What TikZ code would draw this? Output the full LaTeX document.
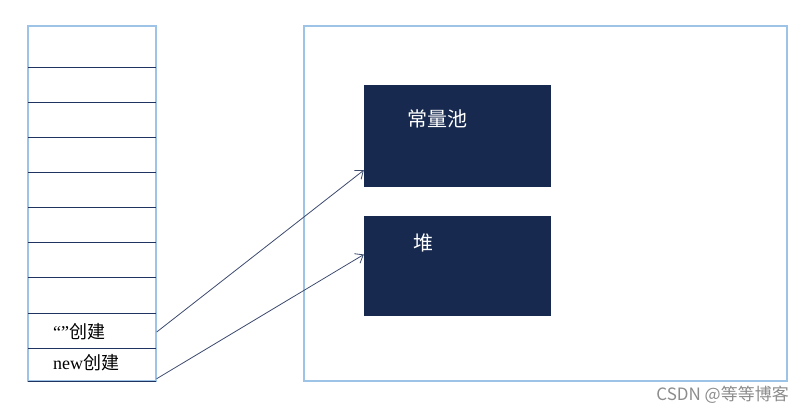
\documentclass[tikz,border=0pt]{standalone}
\usepackage{fontspec}
\setmainfont{Liberation Serif}
\newfontfamily\cjk{Noto Sans CJK SC}
\usetikzlibrary{arrows.meta}

\definecolor{frameblue}{HTML}{9DC3E6}
\definecolor{rowdark}{HTML}{1F3460}
\definecolor{boxnavy}{HTML}{17294F}
\definecolor{ptrgray}{HTML}{3C4A6E}

\tikzset{
	stack/.style={draw=frameblue, line width=1.4pt, inner sep=0pt},
	rowline/.style={draw=rowdark, line width=0.9pt},
	area/.style={draw=boxnavy, fill=boxnavy, inner sep=0pt},
	celltext/.style={anchor=west, inner sep=0pt, font=\fontsize{18}{21}\selectfont},
	areatext/.style={text=white, inner sep=0pt, font=\cjk\fontsize{20}{24}\selectfont},
	ptr/.style={draw=ptrgray, line width=0.8pt, -{Straight Barb[length=7pt, width=11pt]}}
}

\begin{document}
\begin{tikzpicture}[x=1pt, y=-1pt]
	
	\useasboundingbox (0,0) rectangle (805,412);
	
	% stack column on the left
	\node[stack, minimum width=128pt, minimum height=355pt] (stack) at (92,203.5) {};
	
	% row separators
	\foreach \y in {67.5,102.5,137,172,207,242,277,313,348}{
		\draw[rowline] (28,\y) -- (156,\y);
	}
	\draw[rowline] (28,381) -- (156,381);
	
	% the two filled rows
	\node[celltext] (quote) at (53,332) {“”{\cjk 创建}};
	\node[celltext] (new)   at (53,363) {new{\cjk 创建}};
	
	% memory frame
	\node[stack, minimum width=483pt, minimum height=355pt] (memory) at (545.5,203.5) {};
	
	% constant pool and heap
	\node[area, minimum width=186pt, minimum height=101pt] (pool) at (457,135.5) {};
	\node[area, minimum width=186pt, minimum height=99pt]  (heap) at (457,265.5) {};
	\node[areatext] (pooltext) at (437,119) {常量池};
	\node[areatext] (heaptext) at (423,243) {堆};
	
	% references
	\draw[ptr] (quote.east -| stack.east) -- ([yshift=16pt]pool.south west);
	\draw[ptr] ([yshift=3pt]stack.south east) -- ([yshift=11pt]heap.west);
	
	% watermark
	\node[anchor=east, inner sep=0pt, text=gray!90, font=\cjk\fontsize{17}{19}\selectfont] (mark) at (789,395) {CSDN @等等博客};
	
\end{tikzpicture}
\end{document}
